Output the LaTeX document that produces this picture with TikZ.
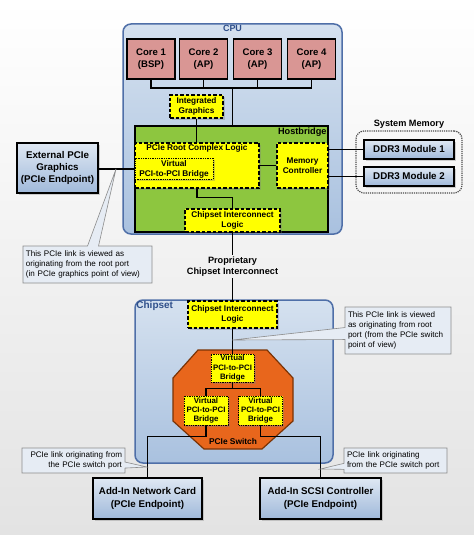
\documentclass[tikz,border=0pt]{standalone}
\usepackage{fontspec}
\setmainfont{Liberation Sans}
\usetikzlibrary{shapes.callouts,shadows}

\definecolor{corered}{HTML}{D99694}
\definecolor{hbgreen}{HTML}{8DC63F}
\definecolor{logicyellow}{HTML}{FFFF00}
\definecolor{conttop}{HTML}{D5E1EF}
\definecolor{contbot}{HTML}{A9C1DF}
\definecolor{contedge}{HTML}{4F6FA8}
\definecolor{eptop}{HTML}{DFE8F3}
\definecolor{epbot}{HTML}{A0B9DA}
\definecolor{notefill}{HTML}{E6ECF4}
\definecolor{noteedge}{HTML}{8C8C8C}
\definecolor{switchorange}{HTML}{E8661C}
\definecolor{switchedge}{HTML}{7A3305}
\definecolor{titleblue}{HTML}{2F4F8A}

\newcommand{\fs}[2]{\fontsize{#1}{#2}\selectfont}

\begin{document}
\begin{tikzpicture}[x=1bp,y=-1bp,
  box/.style={draw,line width=1.3bp,inner sep=1bp,align=center,font=\bfseries\fs{8.3}{10}},
  core/.style={box,fill=corered,minimum width=48bp,minimum height=40bp,font=\bfseries\fs{9.6}{11.5}},
  logic/.style={box,fill=logicyellow,dash pattern=on 3.5bp off 2bp,drop shadow={opacity=0.35,shadow xshift=2bp,shadow yshift=-2bp}},
  vbridge/.style={box,fill=logicyellow,densely dotted,line width=0.7bp,drop shadow={opacity=0.35,shadow xshift=1.5bp,shadow yshift=-1.5bp}},
  endpoint/.style={box,line width=1.5bp,top color=eptop,bottom color=epbot,drop shadow={opacity=0.35,shadow xshift=2bp,shadow yshift=-2bp},font=\bfseries\fs{9.8}{12.3}},
  cont/.style={draw=contedge,line width=1.5bp,rounded corners=8bp,top color=conttop,bottom color=contbot},
  title/.style={inner sep=2bp,font=\bfseries\fs{9.2}{11}},
  note/.style={rectangle callout,draw=noteedge,fill=notefill,line width=0.6bp,inner sep=3bp,align=left,font=\fs{8.1}{10}},
  wire/.style={line width=1.3bp}]

  % background
  \shade[top color=white,bottom color=gray!22] (0,0) rectangle (474,535);
  \useasboundingbox (0,0) rectangle (474,535);

  % CPU
  \node[cont,minimum width=219bp,minimum height=210bp] (cpu) at (232.5,129) {};
  \node[title,anchor=north,text=titleblue,font=\bfseries\fs{9}{11}] (cpulbl) at (cpu.north) {CPU};
  \foreach \n/\x/\t in {1/151/BSP,2/203.5/AP,3/257.5/AP,4/311.5/AP}
    \node[core] (core\n) at (\x,59) {Core \n\\(\t)};
  \coordinate (bus) at (232.5,88);
  \draw[wire] (core1.south) |- (bus) -| (core4.south);
  \foreach \n in {2,3}
    \draw[wire] (core\n.south) -- (core\n.south |- bus);

  % hostbridge
  \node[draw,line width=1.3bp,fill=hbgreen,minimum width=193bp,minimum height=106bp] (hb) at (231.5,179) {};
  \node[title,anchor=north east] (hblbl) at (hb.north east) {Hostbridge};
  \draw[wire] (bus) -- (bus |- hb.north);
  \node[logic,minimum width=53bp,minimum height=23bp] (igfx) at (196.5,106.5) {Integrated\\Graphics};
  \node[logic,minimum width=124bp,minimum height=45bp] (rc) at (197,165.5) {};
  \node[anchor=north,inner sep=1.5bp,font=\bfseries\fs{8.3}{10}] (rclbl) at (rc.north) {PCIe Root Complex Logic};
  \node[vbridge,minimum width=78bp,minimum height=21bp] (vb) at (174,169) {Virtual\\PCI-to-PCI Bridge};
  \node[logic,minimum width=51bp,minimum height=45bp] (mc) at (302.5,165.5) {Memory\\Controller};
  \node[logic,minimum width=95bp,minimum height=23bp] (cil) at (232.5,220.5) {Chipset Interconnect\\Logic};
  \draw[wire] (igfx.south) -- (igfx.south |- rc.north);
  \draw[wire] (rc.east) -- (mc.west);
  \draw[wire] (rc.south) -- ++(0,9) -| (cil.north);

  % external graphics
  \node[endpoint,minimum width=81bp,minimum height=50bp] (egfx) at (57.5,168) {External PCIe\\Graphics\\(PCIe Endpoint)};
  \draw[wire] (egfx.east |- vb.west) -- (vb.west);
  \coordinate (tip1) at (116,169);

  % system memory
  \node[draw=black!70,densely dotted,line width=1.2bp,rounded corners=8bp,minimum width=106bp,minimum height=62bp] (sysmem) at (409,162) {};
  \node[title,anchor=south] (memlbl) at (sysmem.north) {System Memory};
  \node[endpoint,minimum width=90bp,minimum height=19bp] (ddr1) at (409,149.5) {DDR3 Module 1};
  \node[endpoint,minimum width=90bp,minimum height=19bp] (ddr2) at (409,176.5) {DDR3 Module 2};
  \draw[wire] (mc.east |- ddr1) -- (ddr1.west);
  \draw[wire] (mc.east |- ddr2) -- (ddr2.west);

  % proprietary interconnect
  \node[title,align=center] (prop) at (232.5,266.5) {Proprietary\\Chipset Interconnect};
  \draw[wire] (cil.south) -- (prop.north);

  % chipset
  \node[cont,minimum width=198bp,minimum height=163bp] (cs) at (234,381.5) {};
  \node[title,anchor=north west,text=titleblue,font=\bfseries\fs{10}{12}] (cslbl) at (cs.north west) {Chipset};
  \node[logic,minimum width=89bp,minimum height=27bp] (ccil) at (232.5,314.5) {Chipset Interconnect\\Logic};
  \draw[wire] (prop.south) -- (ccil.north);
  \coordinate (tip2) at (232.5,340);

  % PCIe switch
  \draw[line width=1.2bp,draw=switchedge,fill=switchorange] (198,350) -- (267,350) -- (293,378) -- (293,421)
    -- (262,449) -- (204,449) -- (173,421) -- (173,378) -- cycle;
  \node[title,font=\bfseries\fs{8.4}{10}] (swlbl) at (233,442) {PCIe Switch};
  \node[vbridge,minimum width=43bp,minimum height=28bp,font=\bfseries\fs{7.9}{9.2}] (vbt) at (232.5,368) {Virtual\\PCI-to-PCI\\Bridge};
  \node[vbridge,minimum width=44bp,minimum height=29bp,font=\bfseries\fs{7.9}{9.2}] (vbl) at (206,410.5) {Virtual\\PCI-to-PCI\\Bridge};
  \node[vbridge,minimum width=44bp,minimum height=29bp,font=\bfseries\fs{7.9}{9.2}] (vbr) at (260.5,410.5) {Virtual\\PCI-to-PCI\\Bridge};
  \draw[wire] (ccil.south) -- (vbt.north);
  \draw[wire] (vbt.south) -- ++(0,6) -| (vbl.north);
  \draw[wire] (vbt.south) -- ++(0,6) -| (vbr.north);

  % endpoints
  \node[endpoint,minimum width=109bp,minimum height=41bp] (nic) at (147.5,498.5) {Add-In Network Card\\(PCIe Endpoint)};
  \node[endpoint,minimum width=121bp,minimum height=41bp] (scsi) at (320.5,498.5) {Add-In SCSI Controller\\(PCIe Endpoint)};
  \draw[wire] (vbl.south) -- ++(0,11) -| (nic.north);
  \draw[wire] (vbr.south) -- ++(0,11) -| (scsi.north);
  \coordinate (tip3) at (147,467);
  \coordinate (tip4) at (320.5,469);

  % callouts
  \node[note,callout absolute pointer={(tip1)},callout pointer width=11bp,text width=123bp,minimum height=37bp] (note1) at (87.5,264.5)
    {This PCIe link is viewed as\\originating from the root port\\(in PCIe graphics point of view)};
  \node[note,callout absolute pointer={(tip2)},callout pointer width=12bp,text width=100bp,minimum height=47bp] (note2) at (398,330.5)
    {This PCIe link is viewed\\as originating from root\\port (from the PCIe switch\\point of view)};
  \node[note,callout absolute pointer={(tip3)},callout pointer width=6bp,text width=97bp,minimum height=25bp,align=right] (note3) at (73.5,460.5)
    {PCIe link originating from\\the PCIe switch port};
  \node[note,callout absolute pointer={(tip4)},callout pointer width=6bp,text width=97bp,minimum height=25bp] (note4) at (395.5,460.5)
    {PCIe link originating\\from the PCIe switch port};

\end{tikzpicture}
\end{document}
